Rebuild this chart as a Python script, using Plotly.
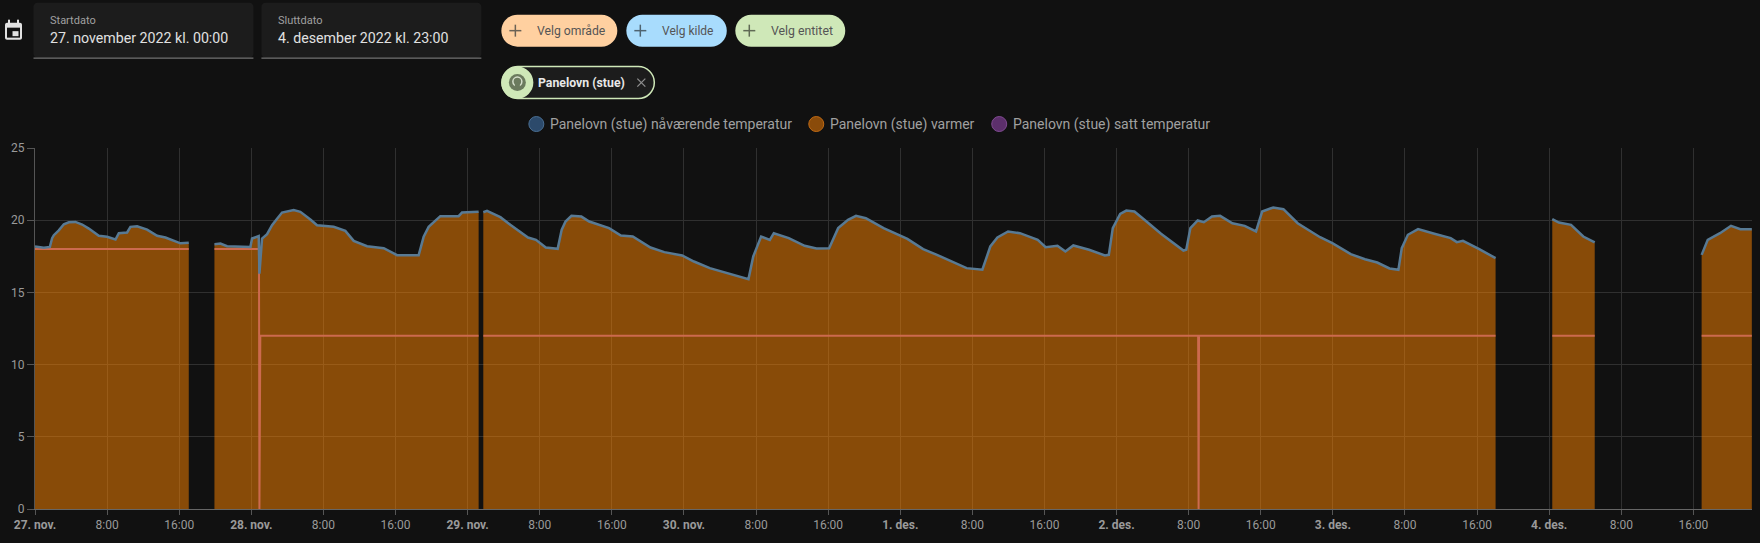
import pandas as pd
import plotly.graph_objects as go

START = pd.Timestamp("2022-11-27 00:00")
W, H = 1760, 543
L, R, T, B = 34.5, 8, 147.5, 34

temp_hours = [0,0.98,1.65,1.9,2.09,2.64,3.2,3.75,4.49,5.23,5.97,7.08,8.0,8.93,9.3,10.22,10.59,11.33,12.44,13.55,14.47,15.4,16.14,17.06,None,
 19.91,20.57,21.31,22.05,23.9,24.08,24.82,24.9,25.19,25.75,26.3,26.86,27.41,28.7,29.44,30.55,31.29,33.14,34.43,35.36,36.84,38.69,40.17,42.57,43.12,43.68,44.42,44.97,47,47.38,49.22,None,
 49.74,50.15,51.63,52.73,54.7,55.58,56.67,57.99,58.43,58.86,59.52,60.62,61.49,63.69,65.0,66.32,68.29,69.82,71.8,73.11,74.87,78.37,79.16,79.69,80.56,81.53,81.97,83.63,85.39,86.7,88.11,89.11,90.21,91.09,92.18,94.15,96.79,98.54,100.07,103.36,105.11,105.99,106.78,107.96,109.28,111.25,112.13,113.44,114.32,115.2,116.95,118.7,119.14,119.58,120.4,
 121.08,121.98,123.12,124.93,127.42,127.73,128.19,129.0,129.68,130.59,131.49,132.85,134.21,135.47,136.15,137.38,138.51,140.09,142.58,143.94,145.98,147.56,148.92,150.28,151.27,151.64,152.32,153.45,155.26,157.07,157.75,158.43,160.24,162.05,None,
 168.34,169.07,170.42,171.78,173.05,None,
 184.91,185.59,186.95,188.17,189.21,190.48]
temp_values = [18.18,18.1,18.15,18.75,18.96,19.3,19.72,19.86,19.88,19.7,19.42,18.92,18.85,18.66,19.1,19.15,19.54,19.58,19.35,18.92,18.8,18.55,18.4,18.43,None,
 18.34,18.38,18.2,18.18,18.15,18.73,18.9,16.3,18.73,19.03,19.65,20.1,20.53,20.7,20.58,20.05,19.65,19.54,19.26,18.57,18.2,18.06,17.58,17.58,18.85,19.54,20.0,20.28,20.28,20.53,20.58,None,
 20.55,20.65,20.21,19.68,18.8,18.64,18.11,18.02,19.33,19.91,20.3,20.25,19.91,19.45,18.94,18.87,18.11,17.79,17.56,17.14,16.68,16.06,15.92,17.49,18.87,18.64,19.1,18.76,18.23,18.04,18.06,19.45,20.02,20.3,20.14,19.45,18.71,18.0,17.6,16.68,16.57,18.18,18.8,19.22,19.1,18.64,18.13,18.23,17.83,18.25,17.95,17.56,17.6,19.45,20.44,
 20.67,20.6,20.02,19.06,17.9,17.95,19.45,19.98,19.86,20.25,20.3,19.79,19.61,19.22,20.6,20.88,20.76,19.79,18.82,18.41,17.65,17.3,17.07,16.66,16.57,18.06,18.99,19.38,19.06,18.76,18.48,18.57,18.0,17.37,None,
 20.07,19.84,19.68,18.87,18.46,None,
 17.6,18.64,19.1,19.61,19.38,19.38]
set_hours = [0,17.06,None,19.91,24.85,24.9,25.0,49.22,None,49.74,129.05,129.1,129.15,162.05,None,168.34,173.05,None,184.91,190.48]
set_values = [18,18,None,18,18,0,12,12,None,12,12,0,12,12,None,12,12,None,12,12]
day_labels = ["27. nov.","28. nov.","29. nov.","30. nov.","1. des.","2. des.","3. des.","4. des."]
hour_labels = ["8:00","16:00"]
legend_names = ["Panelovn (stue) nåværende temperatur","Panelovn (stue) varmer","Panelovn (stue) satt temperatur"]


def when(hours):
    return [None if h is None else START + pd.Timedelta(hours=h) for h in hours]


def segments(hours, values):
    out, cur_h, cur_v = [], [], []
    for h, v in zip(hours, values):
        if h is None:
            out.append((cur_h, cur_v))
            cur_h, cur_v = [], []
        else:
            cur_h.append(h)
            cur_v.append(v)
    out.append((cur_h, cur_v))
    return out


tickvals, ticktext = [], []
for i, d in enumerate(day_labels):
    tickvals.append(START + pd.Timedelta(hours=24 * i))
    ticktext.append(f"<b>{d}</b>")
    for j, lab in enumerate(hour_labels):
        tickvals.append(START + pd.Timedelta(hours=24 * i + 8 * (j + 1)))
        ticktext.append(lab)

px = lambda x: (x - L) / (W - L - R)
py = lambda y: 1 - (y - T) / (H - T - B)


def rrect(x0, y0, x1, y1, r, fill, line=None, lw=0):
    xa, xb, ya, yb = px(x0), px(x1), py(y0), py(y1)
    rx = r / (W - L - R)
    ry = r / (H - T - B)
    k = 0.45
    p = (f"M {xa+rx} {ya} L {xb-rx} {ya} C {xb-rx*k} {ya} {xb} {ya-ry*k} {xb} {ya-ry} "
         f"L {xb} {yb+ry} C {xb} {yb+ry*k} {xb-rx*k} {yb} {xb-rx} {yb} "
         f"L {xa+rx} {yb} C {xa+rx*k} {yb} {xa} {yb+ry*k} {xa} {yb+ry} "
         f"L {xa} {ya-ry} C {xa} {ya-ry*k} {xa+rx*k} {ya} {xa+rx} {ya} Z")
    return dict(type="path", xref="paper", yref="paper", path=p, fillcolor=fill,
                line=dict(color=line or fill, width=lw), layer="above")


def box(x0, y0, x1, y1, fill):
    return dict(type="rect", xref="paper", yref="paper", x0=px(x0), x1=px(x1), y0=py(y0), y1=py(y1),
                fillcolor=fill, line=dict(width=0), layer="above")


def seg(x0, y0, x1, y1, color, w=1):
    return dict(type="line", xref="paper", yref="paper", x0=px(x0), x1=px(x1), y0=py(y0), y1=py(y1),
                line=dict(color=color, width=w), layer="above")


def circ(cx, cy, r, fill, line=None, lw=0):
    return dict(type="circle", xref="paper", yref="paper", x0=px(cx - r), x1=px(cx + r), y0=py(cy - r), y1=py(cy + r),
                fillcolor=fill, line=dict(color=line or fill, width=lw), layer="above")


def txt(x, y, s, size, color, anchor="left"):
    return dict(xref="paper", yref="paper", x=px(x), y=py(y), text=s, showarrow=False, xanchor=anchor,
                yanchor="middle", font=dict(family="Roboto", size=size, color=color), align=anchor)


BG = "#111111"
CARD = "#1c1c1c"
GREEN = "#cfe8b8"
ICON = "#6b7a5e"
shapes = [
    rrect(33, 2, 253, 57, 4, CARD), seg(33, 57.5, 253, 57.5, "#8a8a8a"),
    rrect(261, 2, 481, 57, 4, CARD), seg(261, 57.5, 481, 57.5, "#8a8a8a"),
    rrect(4.5, 22, 21.5, 39, 2, "#e1e1e1"), box(7.5, 19, 9.5, 23, "#e1e1e1"), box(16.5, 19, 18.5, 23, "#e1e1e1"),
    box(6.5, 27, 19.5, 37, BG), box(12, 30.5, 18, 35.5, "#e1e1e1"),
    rrect(501, 14, 617, 46, 16, "#ffd0a0"),
    rrect(626, 14, 726.5, 46, 16, "#a8dcfd"),
    rrect(735, 14, 845, 46, 16, GREEN),
    rrect(501.5, 66, 654, 98, 16, CARD, GREEN, 1.5),
    circ(517, 82, 16, GREEN),
    circ(517, 82, 8.5, ICON),
    circ(517, 81, 4.5, ICON, "#d6dfcc", 1.5),
    box(514.5, 82, 519.5, 88, ICON),
]
for cx, c in ((515, "#6b6255"), (640, "#4f6470"), (749, "#5f6a55")):
    shapes += [seg(cx - 6, 30, cx + 6, 30, c, 1.5), seg(cx, 24, cx, 36, c, 1.5)]
shapes += [seg(637, 78, 645, 86, "#8f8f8f", 1.2), seg(637, 86, 645, 78, "#8f8f8f", 1.2)]

annotations = [
    txt(47.5, 20, "Startdato", 11, "#a0a0a0"), txt(47.5, 37.5, "27. november 2022 kl. 00:00", 14.2, "#e1e1e1"),
    txt(275.5, 20, "Sluttdato", 11, "#a0a0a0"), txt(275.5, 37.5, "4. desember 2022 kl. 23:00", 14.2, "#e1e1e1"),
    txt(534.5, 30, "Velg område", 12.2, "#555555"),
    txt(659.5, 30, "Velg kilde", 12, "#555555"),
    txt(769, 30, "Velg entitet", 12.3, "#555555"),
    txt(536, 82, "<b>Panelovn (stue)</b>", 12.3, "#e8e8e8"),
]

legend_marker_x = [534, 814, 997]
legend_fill = ["#2c4a6b", "#8a4b0a", "#5c2f6b"]
legend_edge = ["#4a6f93", "#c06a14", "#7f4a90"]
for name, mx, f, e in zip(legend_names, legend_marker_x, legend_fill, legend_edge):
    shapes.append(circ(mx + 2, 123.5, 7.5, f, e, 1))
    annotations.append(txt(mx + 14, 123.5, name, 14, "#a0a0a0"))

fig = go.Figure()
for sh, sv in segments(temp_hours, temp_values):
    fig.add_trace(go.Scatter(x=when(sh), y=sv, mode="none", fill="tozeroy",
                             fillcolor="rgba(255,134,0,0.5)", showlegend=False, hoverinfo="skip"))
fig.add_trace(go.Scatter(x=when(set_hours), y=set_values, mode="lines", line=dict(color="#cc6a4e", width=2),
                         showlegend=False, name=legend_names[2]))
fig.add_trace(go.Scatter(x=when(temp_hours), y=temp_values, mode="lines", line=dict(color="#587a94", width=2.5),
                         showlegend=False, name=legend_names[0]))

fig.update_layout(
    width=W, height=H, paper_bgcolor=BG, plot_bgcolor=BG,
    margin=dict(l=L, r=R, t=T, b=B, pad=0),
    font=dict(family="Roboto", size=12, color="#9a9a9a"),
    shapes=shapes, annotations=annotations, showlegend=False,
    xaxis=dict(type="date", range=[START, START + pd.Timedelta(hours=190.5)], tickmode="array",
               tickvals=tickvals, ticktext=ticktext, tickangle=0, showgrid=True, gridcolor="#303030",
               ticks="outside", ticklen=5, tickcolor="#555555", showline=True, linecolor="#666666",
               tickfont=dict(family="Roboto", size=12, color="#9a9a9a"), zeroline=False),
    yaxis=dict(range=[0, 25], tickvals=[0, 5, 10, 15, 20, 25], showgrid=True, gridcolor="#303030",
               ticks="outside", ticklen=7, tickcolor="#555555", showline=True, linecolor="#555555",
               tickfont=dict(family="Roboto", size=12, color="#9a9a9a"), zeroline=False),
)
fig.write_html("out.html", config={"displayModeBar": False}, post_script="document.body.style.margin='0';")
